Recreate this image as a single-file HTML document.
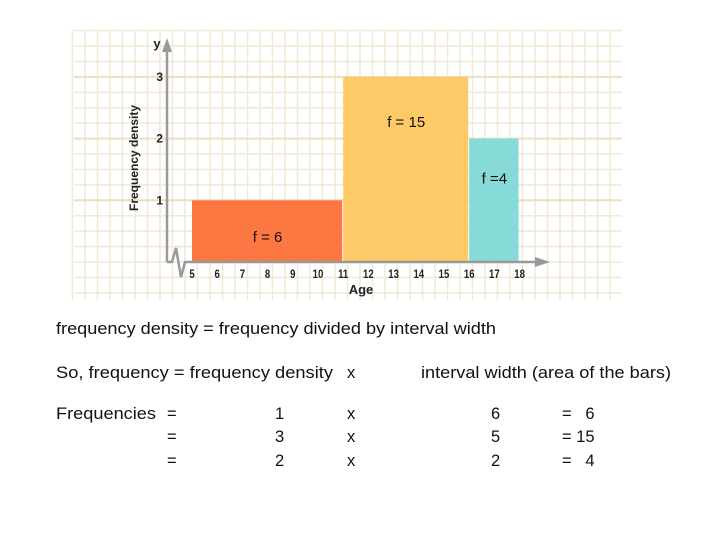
<!DOCTYPE html>
<html><head><meta charset="utf-8"><style>
body{margin:0;background:#fff;width:728px;height:546px;overflow:hidden}
svg{display:block;font-family:"Liberation Sans",Arial,sans-serif}
text{white-space:pre}
</style></head><body>
<svg id="c" width="728" height="546" viewBox="0 0 728 546">
<g id="grid"></g>
<g id="bars"></g>
<g id="axes"></g>
<g font-size="16.5" fill="#111">
<text x="56" y="334" textLength="440" lengthAdjust="spacingAndGlyphs">frequency density = frequency divided by interval width</text>
<text x="56" y="378" textLength="277" lengthAdjust="spacingAndGlyphs">So, frequency = frequency density</text>
<text x="347" y="378">x</text>
<text x="421" y="378" textLength="250" lengthAdjust="spacingAndGlyphs">interval width (area of the bars)</text>
<text x="56" y="419" textLength="100" lengthAdjust="spacingAndGlyphs">Frequencies</text>
<g id="rows"></g>
</g>
</svg>
<script>
const binStarts=[5,11,16];
const binEnds=[11,16,18];
const densities=[1,3,2];
const barLabels=["f = 6","f = 15","f =4"];
const xTicks=[5,6,7,8,9,10,11,12,13,14,15,16,17,18];
const yTicks=[1,2,3];
const widths=[6,5,2];
const products=["6","15","4"];
const colors=["#fd7743","#fec967","#86dbd8"];
const NS="http://www.w3.org/2000/svg";
function mk(t,a,p){const e=document.createElementNS(NS,t);for(const k in a)e.setAttribute(k,a[k]);p.appendChild(e);return e;}
const X=v=>192+(v-5)*25.2, Y=v=>262-v*61.7;
const grid=document.getElementById('grid');
for(let x=72.5;x<=622;x+=12.5){const l=mk('line',{x1:x,y1:30,x2:x,y2:300,stroke:'#f1e9d3','stroke-width':1.5},grid);

}
for(let y=262-15.425*15;y<=300;y+=15.425){if(y<29)continue;const l=mk('line',{x1:74,y1:y,x2:622,y2:y,stroke:'#f1e9d3','stroke-width':1.5},grid);

}
yTicks.forEach(v=>{const l=mk('line',{x1:74,y1:Y(v),x2:622,y2:Y(v),stroke:'#ebdfc0','stroke-width':2},grid);

});
const bars=document.getElementById('bars');
densities.forEach((d,i)=>{const r=mk('rect',{x:X(binStarts[i]),y:Y(d),width:X(binEnds[i])-X(binStarts[i])-1,height:Y(0)-Y(d),fill:colors[i]},bars);


const cx=(X(binStarts[i])+X(binEnds[i]))/2;
const ly=i===0?Y(0)-20:(i===1?Y(d)+50:Y(d)+45);
const t=mk('text',{x:cx,y:ly,'text-anchor':'middle','font-size':15,fill:'#111'},bars);t.textContent=barLabels[i];

});
const ax=document.getElementById('axes');
let e=mk('line',{x1:167,y1:Y(0),x2:167,y2:50,stroke:'#999','stroke-width':2.5},ax);


e=mk('polygon',{points:'162,52 167,38 172,52',fill:'#999'},ax);


e=mk('polyline',{points:`167,${Y(0)} 172,${Y(0)} 176,248 181,277 185,${Y(0)} 540,${Y(0)}`,fill:'none',stroke:'#999','stroke-width':2.5},ax);


e=mk('polygon',{points:`535,${Y(0)-5} 550,${Y(0)} 535,${Y(0)+5}`,fill:'#999'},ax);


xTicks.forEach(v=>{const t=mk('text',{x:X(v),y:Y(0)+16,'text-anchor':'middle','font-size':12,'font-weight':'bold',fill:'#222',transform:`translate(${X(v)*0.2},0) scale(0.8,1)`},ax);t.textContent=v;

});
yTicks.forEach(v=>{const t=mk('text',{x:163,y:Y(v)+4,'text-anchor':'end','font-size':12,'font-weight':'bold',fill:'#222'},ax);t.textContent=v;

});
e=mk('text',{x:157,y:48,'text-anchor':'middle','font-size':13,'font-weight':'bold',fill:'#222'},ax);e.textContent='y';


e=mk('text',{x:361,y:294,'text-anchor':'middle','font-size':13,'font-weight':'bold',fill:'#222'},ax);e.textContent='Age';


e=mk('text',{x:0,y:0,'text-anchor':'middle','font-size':12,'font-weight':'bold',fill:'#222',transform:'translate(138,158) rotate(-90)'},ax);e.textContent='Frequency density';


const rows=document.getElementById('rows');
const rowY=[419,442,466];
densities.forEach((d,i)=>{const y=rowY[i];
const cells=[[167,'='],[275,String(d)],[347,'x'],[491,String(widths[i])],[562,products[i].length===1?'=   '+products[i]:'= '+products[i]]];
cells.forEach(c=>{const t=mk('text',{x:c[0],y:y},rows);t.textContent=c[1];

});});
</script>
</body></html>
